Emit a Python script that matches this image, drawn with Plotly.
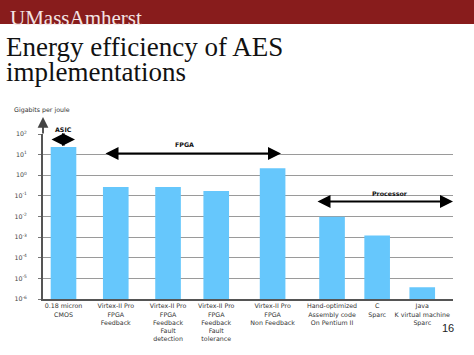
import plotly.graph_objects as go

# ---- data ----
categories = [
    "0.18 micron<br>CMOS",
    "Virtex-II Pro<br>FPGA<br>Feedback",
    "Virtex-II Pro<br>FPGA<br>Feedback<br>Fault<br>detection",
    "Virtex-II Pro<br>FPGA<br>Feedback<br>Fault<br>tolerance",
    "Virtex-II Pro<br>FPGA<br>Non Feedback",
    "Hand-optimized<br>Assembly code<br>On Pentium II",
    "C<br>Sparc",
    "Java<br>K virtual machine<br>Sparc",
]
gbits_per_joule = [23.5, 0.27, 0.27, 0.17, 2.2, 0.0098, 0.0012, 3.7e-6]
slot = [0.40, 1.42, 2.44, 3.38, 4.48, 5.64, 6.52, 7.40]
y_tick_vals = [1e-6, 1e-5, 1e-4, 1e-3, 1e-2, 1e-1, 1e0, 1e1, 1e2]
y_tick_text = ["10<sup>-6</sup>", "10<sup>-5</sup>", "10<sup>-4</sup>", "10<sup>-3</sup>",
               "10<sup>-2</sup>", "10<sup>-1</sup>", "10<sup>0</sup>", "10<sup>1</sup>", "10<sup>2</sup>"]

W, H = 474, 355
L, R, T, B = 43, 21, 134, 56
PW, PH = W - L - R, H - T - B


def px(x):
    return (x - L) / PW


def py(y):
    return (H - B - y) / PH


SANS = "DejaVu Sans"
SERIF = "Liberation Serif"

fig = go.Figure()
fig.add_trace(go.Bar(
    x=slot, y=gbits_per_joule, width=0.5,
    marker=dict(color="#66c7fc", line=dict(width=0)),
    hoverinfo="skip",
))

fig.update_layout(
    width=W, height=H,
    margin=dict(l=L, r=R, t=T, b=B),
    paper_bgcolor="white", plot_bgcolor="white",
    showlegend=False,
    xaxis=dict(
        range=[0, 8], tickvals=slot, ticktext=categories,
        tickfont=dict(family=SANS, size=6.3, color="#333"),
        showgrid=False, zeroline=False, ticks="",
        showline=True, linecolor="#555", linewidth=1.6,
    ),
    yaxis=dict(
        type="log", range=[-6, 2], tickvals=y_tick_vals, ticktext=y_tick_text,
        tickfont=dict(family=SANS, size=6.3, color="#444"),
        showgrid=True, gridcolor="#9a9a9a", gridwidth=1.4,
        ticks="outside", ticklen=3, tickcolor="#777", tickwidth=1.2,
        showline=True, linecolor="#555", linewidth=1.8,
        zeroline=False, ticklabelstandoff=10,
    ),
)

shapes = [
    dict(type="rect", xref="paper", yref="paper", x0=px(0), x1=px(W), y0=py(0), y1=py(24),
         fillcolor="#881c1c", line=dict(width=0), layer="above"),
]
fig.update_layout(shapes=shapes)

ann = []
# header logo text
ann.append(dict(xref="paper", yref="paper", x=px(8), y=py(17.5), xanchor="left", yanchor="middle",
                text="UMassAmherst", showarrow=False,
                font=dict(family=SERIF, size=21, color="#f3e4e4")))
# title
ann.append(dict(xref="paper", yref="paper", x=px(4), y=py(47), xanchor="left", yanchor="middle",
                text="Energy efficiency of AES", showarrow=False,
                font=dict(family=SERIF, size=27, color="#111")))
ann.append(dict(xref="paper", yref="paper", x=px(4), y=py(72), xanchor="left", yanchor="middle",
                text="implementations", showarrow=False,
                font=dict(family=SERIF, size=27, color="#111")))
# y axis title
ann.append(dict(xref="paper", yref="paper", x=px(42), y=py(110), xanchor="center", yanchor="middle",
                text="Gigabits per joule", showarrow=False,
                font=dict(family=SANS, size=6.3, color="#333")))
# y axis arrow
ann.append(dict(xref="paper", yref="paper", x=px(43), y=py(117), ax=0, ay=18, text="",
                showarrow=True, arrowhead=2, arrowsize=1.2, arrowwidth=1.8, arrowcolor="#444"))


def group_arrow(x0, x1, yv, label, lx, ly):
    ann.append(dict(xref="paper", yref="paper", x=px(x1), y=py(yv), ax=-(x1 - x0), ay=0, text="",
                    showarrow=True, arrowhead=2, arrowside="end+start", arrowsize=1.3,
                    arrowwidth=2, arrowcolor="#000"))
    ann.append(dict(xref="paper", yref="paper", x=px(lx), y=py(ly), xanchor="center", yanchor="middle",
                    text="<b>" + label + "</b>", showarrow=False,
                    font=dict(family=SANS, size=6.3, color="#111")))


group_arrow(50, 75, 139.5, "ASIC", 63, 129.5)
group_arrow(104, 281, 153.5, "FPGA", 184, 144)
group_arrow(316, 453, 201.5, "Processor", 390, 193)

# page number
ann.append(dict(xref="paper", yref="paper", x=px(448), y=py(328), xanchor="center", yanchor="middle",
                text="16", showarrow=False, font=dict(family="Liberation Sans", size=11, color="#222")))

fig.update_layout(annotations=ann)
fig.write_html("out.html", config={"displayModeBar": False},
               post_script="document.body.style.margin='0';document.body.style.overflow='hidden';")
